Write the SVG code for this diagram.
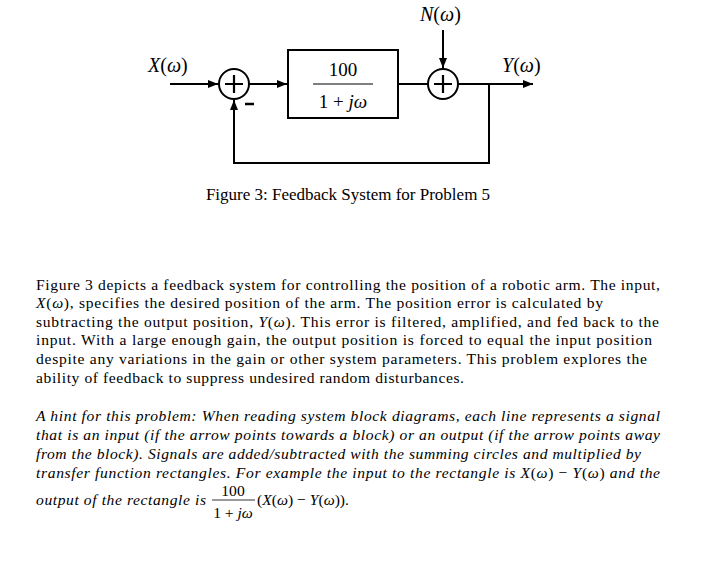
<svg xmlns="http://www.w3.org/2000/svg" width="713" height="566" viewBox="0 0 713 566">
<style>
text{font-family:"Liberation Serif",serif;fill:#000}
.t{font-size:15.6px}
.m{font-style:italic}
.ln{stroke:#000;stroke-width:2;fill:none}
</style>
<defs><marker id="a" viewBox="0 0 10 10" refX="10" refY="5" markerWidth="5" markerHeight="5" orient="auto"><path d="M0,1 L10,5 L0,9 z" fill="#000"/></marker></defs>
<rect width="713" height="566" fill="#fff"/>
<g id="sum1"><circle cx="234" cy="84" r="15" class="ln"/><path d="M225,84h18M234,75v18" stroke="#000" stroke-width="2.2"/></g>
<g id="block"><rect x="288" y="50" width="110" height="68" class="ln"/><text x="343" y="76" font-size="19" text-anchor="middle">100</text><line x1="313" y1="84" x2="373" y2="84" stroke="#000" stroke-width="1"/><text x="343" y="108" font-size="19" text-anchor="middle">1 + <tspan font-style="italic">jω</tspan></text></g>
<g id="sum2"><circle cx="443" cy="84" r="15" class="ln"/><path d="M434,84h18M443,75v18" stroke="#000" stroke-width="2.2"/></g>
<g id="labels">
<text x="148" y="72" font-size="20" class="m">X<tspan font-style="normal">(</tspan>ω<tspan font-style="normal">)</tspan></text>
<text x="420" y="21" font-size="20" class="m">N<tspan font-style="normal">(</tspan>ω<tspan font-style="normal">)</tspan></text>
<text x="502" y="72" font-size="20" class="m">Y<tspan font-style="normal">(</tspan>ω<tspan font-style="normal">)</tspan></text>
<line x1="245" y1="104" x2="254" y2="104" stroke="#000" stroke-width="2.5"/>
</g>
<g id="connectors">
<line x1="170" y1="84" x2="218" y2="84" class="ln" marker-end="url(#a)"/>
<line x1="249" y1="84" x2="287" y2="84" class="ln" marker-end="url(#a)"/>
<line x1="398" y1="84" x2="428" y2="84"  class="ln"/>
<line x1="443" y1="30" x2="443" y2="68" class="ln" marker-end="url(#a)"/>
<line x1="458" y1="84" x2="533" y2="84" class="ln" marker-end="url(#a)"/>
<polyline points="489,84 489,163 234,163 234,100" class="ln" marker-end="url(#a)"/>
</g>
<text x="348" y="200" font-size="17" text-anchor="middle">Figure 3: Feedback System for Problem 5</text>
<g class="t">
<text x="36" y="290" class="t" textLength="624" lengthAdjust="spacing">Figure 3 depicts a feedback system for controlling the position of a robotic arm. The input,</text>
<text x="36" y="308" class="t" textLength="567" lengthAdjust="spacing"><tspan class="m">X</tspan>(<tspan class="m">ω</tspan>), specifies the desired position of the arm. The position error is calculated by</text>
<text x="36" y="327" class="t" textLength="623" lengthAdjust="spacing">subtracting the output position, <tspan class="m">Y</tspan>(<tspan class="m">ω</tspan>). This error is filtered, amplified, and fed back to the</text>
<text x="36" y="345" class="t" textLength="616" lengthAdjust="spacing">input. With a large enough gain, the output position is forced to equal the input position</text>
<text x="36" y="364" class="t" textLength="611" lengthAdjust="spacing">despite any variations in the gain or other system parameters. This problem explores the</text>
<text x="36" y="383" class="t" textLength="428" lengthAdjust="spacing">ability of feedback to suppress undesired random disturbances.</text>
<text x="36" y="421" class="t m" textLength="624" lengthAdjust="spacing">A hint for this problem: When reading system block diagrams, each line represents a signal</text>
<text x="36" y="440" class="t m" textLength="624" lengthAdjust="spacing">that is an input (if the arrow points towards a block) or an output (if the arrow points away</text>
<text x="36" y="459" class="t m" textLength="605" lengthAdjust="spacing">from the block). Signals are added/subtracted with the summing circles and multiplied by</text>
<text x="36" y="478" class="t m" textLength="624" lengthAdjust="spacing">transfer function rectangles. For example the input to the rectangle is X<tspan font-style="normal">(</tspan>ω<tspan font-style="normal">) − </tspan>Y<tspan font-style="normal">(</tspan>ω<tspan font-style="normal">)</tspan> and the</text>
<text x="36" y="505" class="t m" textLength="170" lengthAdjust="spacing">output of the rectangle is</text>
<text x="233" y="496" class="t" text-anchor="middle">100</text>
<line x1="212" y1="500" x2="255" y2="500" stroke="#000" stroke-width="0.8"/>
<text x="233" y="518" class="t" text-anchor="middle">1 + <tspan class="m">jω</tspan></text>
<text x="257" y="505" class="t">(<tspan class="m">X</tspan>(<tspan class="m">ω</tspan>) − <tspan class="m">Y</tspan>(<tspan class="m">ω</tspan>)).</text>
</g>
</svg>
